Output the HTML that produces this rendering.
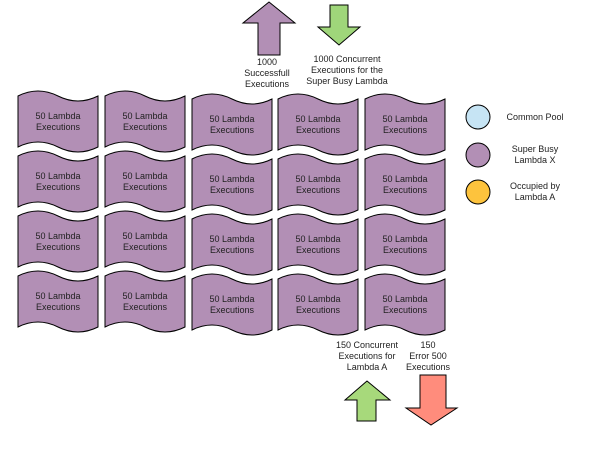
<!DOCTYPE html>
<html><head><style>
html,body{margin:0;padding:0;background:#fff;}
svg{display:block;font-family:"Liberation Sans",sans-serif;}
</style></head><body>
<svg width="610" height="451" viewBox="0 0 610 451" xmlns="http://www.w3.org/2000/svg">
<defs>
<path id="tape" d="M0,3 Q20,-7 40,3 T80,3 L80,54 Q60,64 40,54 T0,54 Z" fill="#b28fb5" stroke="#000" stroke-width="1"/>
</defs>
<g>
<use href="#tape" x="18" y="93"/><use href="#tape" x="105" y="93"/><use href="#tape" x="192" y="96"/><use href="#tape" x="278" y="96"/><use href="#tape" x="365" y="96"/>
<use href="#tape" x="18" y="153"/><use href="#tape" x="105" y="153"/><use href="#tape" x="192" y="156"/><use href="#tape" x="278" y="156"/><use href="#tape" x="365" y="156"/>
<use href="#tape" x="18" y="213"/><use href="#tape" x="105" y="213"/><use href="#tape" x="192" y="216"/><use href="#tape" x="278" y="216"/><use href="#tape" x="365" y="216"/>
<use href="#tape" x="18" y="273"/><use href="#tape" x="105" y="273"/><use href="#tape" x="192" y="276"/><use href="#tape" x="278" y="276"/><use href="#tape" x="365" y="276"/>
</g>
<g font-size="9" fill="#222" text-anchor="middle">
<text x="58" y="119">50 Lambda</text><text x="58" y="130">Executions</text>
<text x="145" y="119">50 Lambda</text><text x="145" y="130">Executions</text>
<text x="232" y="122">50 Lambda</text><text x="232" y="133">Executions</text>
<text x="318" y="122">50 Lambda</text><text x="318" y="133">Executions</text>
<text x="405" y="122">50 Lambda</text><text x="405" y="133">Executions</text>
<text x="58" y="179">50 Lambda</text><text x="58" y="190">Executions</text>
<text x="145" y="179">50 Lambda</text><text x="145" y="190">Executions</text>
<text x="232" y="182">50 Lambda</text><text x="232" y="193">Executions</text>
<text x="318" y="182">50 Lambda</text><text x="318" y="193">Executions</text>
<text x="405" y="182">50 Lambda</text><text x="405" y="193">Executions</text>
<text x="58" y="239">50 Lambda</text><text x="58" y="250">Executions</text>
<text x="145" y="239">50 Lambda</text><text x="145" y="250">Executions</text>
<text x="232" y="242">50 Lambda</text><text x="232" y="253">Executions</text>
<text x="318" y="242">50 Lambda</text><text x="318" y="253">Executions</text>
<text x="405" y="242">50 Lambda</text><text x="405" y="253">Executions</text>
<text x="58" y="299">50 Lambda</text><text x="58" y="310">Executions</text>
<text x="145" y="299">50 Lambda</text><text x="145" y="310">Executions</text>
<text x="232" y="302">50 Lambda</text><text x="232" y="313">Executions</text>
<text x="318" y="302">50 Lambda</text><text x="318" y="313">Executions</text>
<text x="405" y="302">50 Lambda</text><text x="405" y="313">Executions</text>

<text x="267" y="65">1000</text><text x="267" y="76">Successfull</text><text x="267" y="87">Executions</text>
<text x="347" y="62">1000 Concurrent</text><text x="347" y="73">Executions for the</text><text x="347" y="84">Super Busy Lambda</text>
<text x="367" y="348">150 Concurrent</text><text x="367" y="359">Executions for</text><text x="367" y="370">Lambda A</text>
<text x="428" y="348">150</text><text x="428" y="359">Error 500</text><text x="428" y="370">Executions</text>
<text x="535" y="120">Common Pool</text>
<text x="535" y="152">Super Busy</text><text x="535" y="163">Lambda X</text>
<text x="535" y="189">Occupied by</text><text x="535" y="200">Lambda A</text>
</g>
<path d="M269,2 L295,23 L280,23 L280,55 L258,55 L258,23 L243,23 Z" fill="#b28fb5" stroke="#000"/>
<path d="M330,5 L348,5 L348,27 L360,27 L339,45 L318,27 L330,27 Z" fill="#9fd67a" stroke="#000"/>
<path d="M367,381 L390,400 L376,400 L376,421 L357,421 L357,400 L345,400 Z" fill="#a7d97b" stroke="#000"/>
<path d="M420,375 L446,375 L446,408 L457,408 L431,425 L406,408 L420,408 Z" fill="#ff8c7c" stroke="#000"/>
<circle cx="478" cy="117" r="12" fill="#c6e4f4" stroke="#000"/>
<circle cx="478" cy="155" r="12" fill="#b28fb5" stroke="#000"/>
<circle cx="478" cy="192" r="12" fill="#fdc33d" stroke="#000"/>
</svg>
</body></html>
